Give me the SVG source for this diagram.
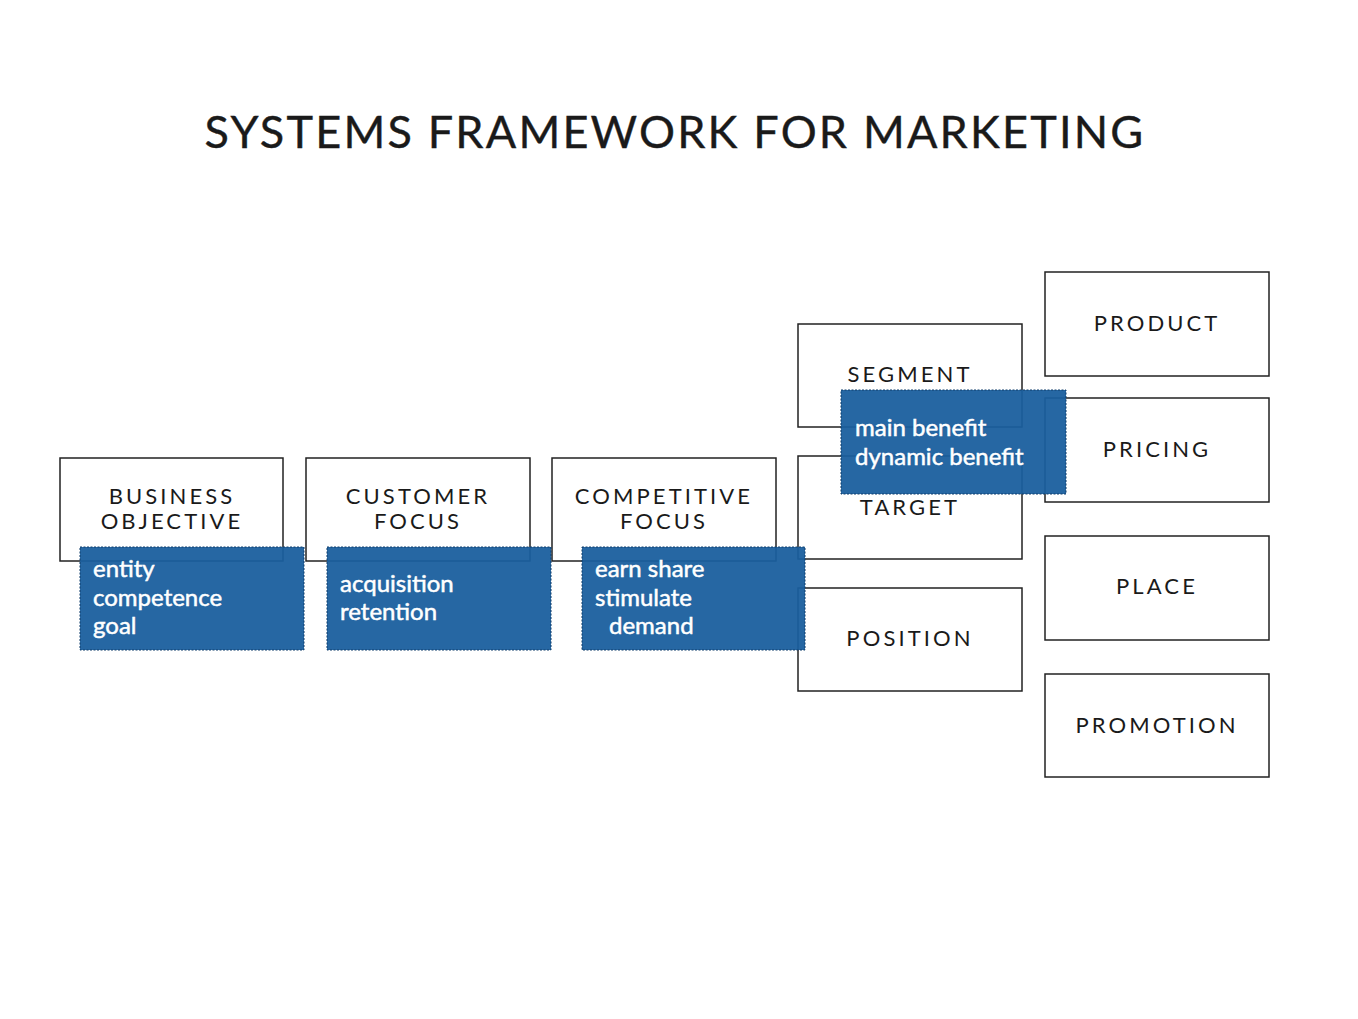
<svg xmlns="http://www.w3.org/2000/svg" width="1358" height="1019" viewBox="0 0 1358 1019">
<style>
.box{fill:#fff;stroke:#222;stroke-width:1.5}
.lbl{font-family:Lato,"Open Sans",sans-serif;font-size:22px;fill:#1a1a1a;letter-spacing:3.1px;text-anchor:middle}
.note{fill:#1a5f9e;fill-opacity:0.95;stroke:#0e3d6a;stroke-width:1;stroke-dasharray:2 1.5}
.nt{font-family:Lato,"Open Sans",sans-serif;font-size:24px;fill:#fff;stroke:#fff;stroke-width:0.5}
.title{font-family:Lato,"Open Sans",sans-serif;font-size:45px;fill:#1a1a1a;stroke:#1a1a1a;stroke-width:0.4;letter-spacing:2.2px;text-anchor:middle}
</style>
<rect width="1358" height="1019" fill="#fff"/>
<text class="title" x="675" y="148">SYSTEMS FRAMEWORK FOR MARKETING</text>
<g id="connectors"/>
<g id="business-objective"><rect class="box" x="60" y="458" width="223" height="103"/><text class="lbl" x="172" y="504">BUSINESS</text><text class="lbl" x="172" y="529">OBJECTIVE</text></g>
<g id="customer-focus"><rect class="box" x="306" y="458" width="224" height="103"/><text class="lbl" x="418" y="504">CUSTOMER</text><text class="lbl" x="418" y="529">FOCUS</text></g>
<g id="competitive-focus"><rect class="box" x="552" y="458" width="224" height="103"/><text class="lbl" x="664" y="504">COMPETITIVE</text><text class="lbl" x="664" y="529">FOCUS</text></g>
<g id="segment"><rect class="box" x="798" y="324" width="224" height="103"/><text class="lbl" x="910" y="382">SEGMENT</text></g>
<g id="target"><rect class="box" x="798" y="456" width="224" height="103"/><text class="lbl" x="910" y="515">TARGET</text></g>
<g id="position"><rect class="box" x="798" y="588" width="224" height="103"/><text class="lbl" x="910" y="646">POSITION</text></g>
<g id="product"><rect class="box" x="1045" y="272" width="224" height="104"/><text class="lbl" x="1157" y="331">PRODUCT</text></g>
<g id="pricing"><rect class="box" x="1045" y="398" width="224" height="104"/><text class="lbl" x="1157" y="457">PRICING</text></g>
<g id="place"><rect class="box" x="1045" y="536" width="224" height="104"/><text class="lbl" x="1157" y="594">PLACE</text></g>
<g id="promotion"><rect class="box" x="1045" y="674" width="224" height="103"/><text class="lbl" x="1157" y="733">PROMOTION</text></g>
<g id="note-business"><rect class="note" x="80" y="547" width="224" height="103"/><text class="nt" x="93" y="577">entity</text><text class="nt" x="93" y="606">competence</text><text class="nt" x="93" y="634">goal</text></g>
<g id="note-customer"><rect class="note" x="327" y="547" width="224" height="103"/><text class="nt" x="340" y="592">acquisition</text><text class="nt" x="340" y="620">retention</text></g>
<g id="note-competitive"><rect class="note" x="582" y="547" width="223" height="103"/><text class="nt" x="595" y="577">earn share</text><text class="nt" x="595" y="606">stimulate</text><text class="nt" x="609" y="634">demand</text></g>
<g id="note-segment"><rect class="note" x="841" y="390" width="225" height="104"/><text class="nt" x="855" y="436">main benefit</text><text class="nt" x="855" y="465">dynamic benefit</text></g>
</svg>
